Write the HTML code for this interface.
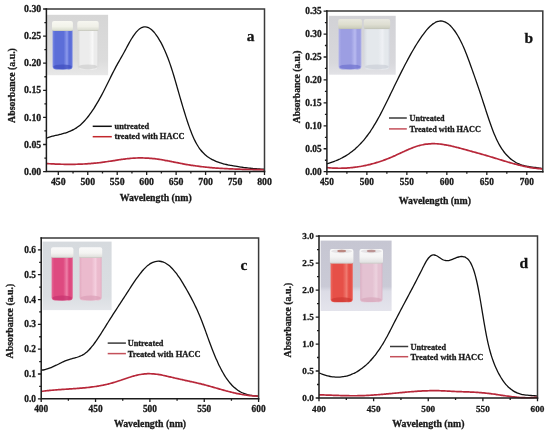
<!DOCTYPE html>
<html><head><meta charset="utf-8"><title>Absorbance spectra</title>
<style>
html,body{margin:0;padding:0;background:#fff;}
body{width:550px;height:432px;overflow:hidden;}
svg{display:block;}
text{font-family:'Liberation Serif', 'Times New Roman', serif;font-weight:bold;fill:#1a1a1a;stroke:#1a1a1a;stroke-width:0.3px;}
.tk{font-size:9.4px;}
.tt{font-size:9.8px;}
.lg{font-size:8.8px;}
.lt{font-size:15.5px;fill:#111;}
</style></head>
<body>
<svg width="550" height="432" viewBox="0 0 550 432">
<defs><linearGradient id="g1" x1="0" y1="0" x2="0" y2="1"><stop offset="0" stop-color="#d6d6d6"/><stop offset="0.75" stop-color="#dcdcdc"/><stop offset="1" stop-color="#e8e8e8"/></linearGradient><linearGradient id="g2" x1="0" y1="0" x2="1" y2="0"><stop offset="0" stop-color="#7a8ae6"/><stop offset="0.12" stop-color="#5c6ed8"/><stop offset="0.55" stop-color="#5c6ed8"/><stop offset="0.72" stop-color="#8c9aec"/><stop offset="0.82" stop-color="#5c6ed8"/><stop offset="0.93" stop-color="#5c6ed8"/><stop offset="1" stop-color="#7a8ae6"/></linearGradient><linearGradient id="g3" x1="0" y1="0" x2="0" y2="1"><stop offset="0" stop-color="#f8f8f2"/><stop offset="0.55" stop-color="#f2f3ea"/><stop offset="1" stop-color="#d8dccc"/></linearGradient><linearGradient id="g4" x1="0" y1="0" x2="1" y2="0"><stop offset="0" stop-color="#d4d4d4"/><stop offset="0.12" stop-color="#ececec"/><stop offset="0.55" stop-color="#ececec"/><stop offset="0.72" stop-color="#f8f8f8"/><stop offset="0.82" stop-color="#ececec"/><stop offset="0.93" stop-color="#ececec"/><stop offset="1" stop-color="#d4d4d4"/></linearGradient><linearGradient id="g5" x1="0" y1="0" x2="0" y2="1"><stop offset="0" stop-color="#f6f6f0"/><stop offset="0.55" stop-color="#f0f0e8"/><stop offset="1" stop-color="#d6d8cc"/></linearGradient><linearGradient id="g6" x1="0" y1="0" x2="0" y2="1"><stop offset="0" stop-color="#d2d2d6"/><stop offset="0.8" stop-color="#d8d8dc"/><stop offset="1" stop-color="#e2e2e6"/></linearGradient><linearGradient id="g7" x1="0" y1="0" x2="1" y2="0"><stop offset="0" stop-color="#aeb0ea"/><stop offset="0.12" stop-color="#9c9ee2"/><stop offset="0.55" stop-color="#9c9ee2"/><stop offset="0.72" stop-color="#b8baf0"/><stop offset="0.82" stop-color="#9c9ee2"/><stop offset="0.93" stop-color="#9c9ee2"/><stop offset="1" stop-color="#aeb0ea"/></linearGradient><linearGradient id="g8" x1="0" y1="0" x2="0" y2="1"><stop offset="0" stop-color="#e8e8de"/><stop offset="0.55" stop-color="#dedece"/><stop offset="1" stop-color="#c8cab8"/></linearGradient><linearGradient id="g9" x1="0" y1="0" x2="1" y2="0"><stop offset="0" stop-color="#d6dae2"/><stop offset="0.12" stop-color="#e4e8ec"/><stop offset="0.55" stop-color="#e4e8ec"/><stop offset="0.72" stop-color="#eef0f4"/><stop offset="0.82" stop-color="#e4e8ec"/><stop offset="0.93" stop-color="#e4e8ec"/><stop offset="1" stop-color="#d6dae2"/></linearGradient><linearGradient id="g10" x1="0" y1="0" x2="0" y2="1"><stop offset="0" stop-color="#e8e8e0"/><stop offset="0.55" stop-color="#deded2"/><stop offset="1" stop-color="#c8cabc"/></linearGradient><linearGradient id="g11" x1="0" y1="0" x2="0" y2="1"><stop offset="0" stop-color="#d6dade"/><stop offset="0.8" stop-color="#dadee2"/><stop offset="1" stop-color="#e4e6ea"/></linearGradient><linearGradient id="g12" x1="0" y1="0" x2="1" y2="0"><stop offset="0" stop-color="#e66a98"/><stop offset="0.12" stop-color="#de4a80"/><stop offset="0.55" stop-color="#de4a80"/><stop offset="0.72" stop-color="#ee80a8"/><stop offset="0.82" stop-color="#de4a80"/><stop offset="0.93" stop-color="#de4a80"/><stop offset="1" stop-color="#e66a98"/></linearGradient><linearGradient id="g13" x1="0" y1="0" x2="0" y2="1"><stop offset="0" stop-color="#fafafa"/><stop offset="0.55" stop-color="#f4f4f2"/><stop offset="1" stop-color="#dcdcd8"/></linearGradient><linearGradient id="g14" x1="0" y1="0" x2="1" y2="0"><stop offset="0" stop-color="#e2aac0"/><stop offset="0.12" stop-color="#ebbacd"/><stop offset="0.55" stop-color="#ebbacd"/><stop offset="0.72" stop-color="#f4cede"/><stop offset="0.82" stop-color="#ebbacd"/><stop offset="0.93" stop-color="#ebbacd"/><stop offset="1" stop-color="#e2aac0"/></linearGradient><linearGradient id="g15" x1="0" y1="0" x2="0" y2="1"><stop offset="0" stop-color="#fafafa"/><stop offset="0.55" stop-color="#f4f4f2"/><stop offset="1" stop-color="#dcdcd8"/></linearGradient><linearGradient id="g16" x1="0" y1="0" x2="0" y2="1"><stop offset="0" stop-color="#c6c6d2"/><stop offset="0.65" stop-color="#cacad6"/><stop offset="0.72" stop-color="#dcdce6"/><stop offset="1" stop-color="#e4e4ec"/></linearGradient><linearGradient id="g17" x1="0" y1="0" x2="1" y2="0"><stop offset="0" stop-color="#ee6a60"/><stop offset="0.12" stop-color="#e65048"/><stop offset="0.55" stop-color="#e65048"/><stop offset="0.72" stop-color="#f07a70"/><stop offset="0.82" stop-color="#e65048"/><stop offset="0.93" stop-color="#e65048"/><stop offset="1" stop-color="#ee6a60"/></linearGradient><linearGradient id="g18" x1="0" y1="0" x2="0" y2="1"><stop offset="0" stop-color="#fafafa"/><stop offset="0.55" stop-color="#f4f4f4"/><stop offset="1" stop-color="#dedede"/></linearGradient><linearGradient id="g19" x1="0" y1="0" x2="1" y2="0"><stop offset="0" stop-color="#dcb0c4"/><stop offset="0.12" stop-color="#e4c2d2"/><stop offset="0.55" stop-color="#e4c2d2"/><stop offset="0.72" stop-color="#ecd2de"/><stop offset="0.82" stop-color="#e4c2d2"/><stop offset="0.93" stop-color="#e4c2d2"/><stop offset="1" stop-color="#dcb0c4"/></linearGradient><linearGradient id="g20" x1="0" y1="0" x2="0" y2="1"><stop offset="0" stop-color="#fafafa"/><stop offset="0.55" stop-color="#f4f4f4"/><stop offset="1" stop-color="#dedede"/></linearGradient></defs>
<rect width="550" height="432" fill="#fff"/>
<rect x="46.9" y="14.8" width="61.2" height="60.4" fill="url(#g1)"/>
<path d="M52.60,30.40 V66.40 Q52.60,69.40 56.60,69.40 H68.60 Q72.60,69.40 72.60,66.40 V30.40 Z" fill="url(#g2)"/>
<ellipse cx="62.60" cy="66.80" rx="9.20" ry="2.4" fill="#4250c0" opacity="0.75"/>
<rect x="52.00" y="21.10" width="20.90" height="9.80" rx="2" fill="url(#g3)"/>
<path d="M52.50,30.60H72.40" stroke="#b8b8b0" stroke-width="0.6" opacity="0.7"/>
<path d="M77.80,30.40 V66.40 Q77.80,69.40 81.80,69.40 H94.20 Q98.20,69.40 98.20,66.40 V30.40 Z" fill="url(#g4)"/>
<ellipse cx="88.00" cy="66.80" rx="9.40" ry="2.4" fill="#d0d0d0" opacity="0.75"/>
<rect x="77.30" y="21.10" width="21.40" height="9.80" rx="2" fill="url(#g5)"/>
<path d="M77.80,30.60H98.20" stroke="#b8b8b0" stroke-width="0.6" opacity="0.7"/>
<rect x="328.9" y="15.8" width="66.8" height="58.9" fill="url(#g6)"/>
<path d="M338.60,28.50 V66.40 Q338.60,69.40 342.60,69.40 H357.40 Q361.40,69.40 361.40,66.40 V28.50 Z" fill="url(#g7)"/>
<ellipse cx="350.00" cy="66.80" rx="10.60" ry="2.4" fill="#7274d0" opacity="0.75"/>
<rect x="338.20" y="19.00" width="23.70" height="10.00" rx="2" fill="url(#g8)"/>
<path d="M338.70,28.70H361.40" stroke="#b8b8b0" stroke-width="0.6" opacity="0.7"/>
<path d="M364.20,28.50 V66.40 Q364.20,69.40 368.20,69.40 H385.60 Q389.60,69.40 389.60,66.40 V28.50 Z" fill="url(#g9)"/>
<ellipse cx="376.90" cy="66.80" rx="11.90" ry="2.4" fill="#ccd0d8" opacity="0.75"/>
<rect x="363.80" y="19.00" width="26.40" height="10.00" rx="2" fill="url(#g10)"/>
<path d="M364.30,28.70H389.70" stroke="#b8b8b0" stroke-width="0.6" opacity="0.7"/>
<rect x="42.6" y="241.6" width="69.0" height="68.5" fill="url(#g11)"/>
<path d="M51.60,257.30 V297.60 Q51.60,300.60 55.60,300.60 H68.80 Q72.80,300.60 72.80,297.60 V257.30 Z" fill="url(#g12)"/>
<ellipse cx="62.20" cy="298.00" rx="9.80" ry="2.4" fill="#c83470" opacity="0.75"/>
<rect x="51.00" y="247.20" width="22.40" height="10.60" rx="2" fill="url(#g13)"/>
<path d="M51.50,257.50H72.90" stroke="#b8b8b0" stroke-width="0.6" opacity="0.7"/>
<path d="M79.60,257.30 V297.60 Q79.60,300.60 83.60,300.60 H97.60 Q101.60,300.60 101.60,297.60 V257.30 Z" fill="url(#g14)"/>
<ellipse cx="90.60" cy="298.00" rx="10.20" ry="2.4" fill="#dca0b8" opacity="0.75"/>
<rect x="79.00" y="247.20" width="23.20" height="10.60" rx="2" fill="url(#g15)"/>
<path d="M79.50,257.50H101.70" stroke="#b8b8b0" stroke-width="0.6" opacity="0.7"/>
<rect x="320.6" y="240.6" width="71.0" height="70.4" fill="url(#g16)"/>
<path d="M330.60,263.00 V299.30 Q330.60,302.30 334.60,302.30 H348.80 Q352.80,302.30 352.80,299.30 V263.00 Z" fill="url(#g17)"/>
<ellipse cx="341.70" cy="299.70" rx="10.30" ry="2.4" fill="#d03a34" opacity="0.75"/>
<rect x="329.90" y="249.00" width="23.50" height="14.50" rx="2" fill="url(#g18)"/>
<ellipse cx="341.65" cy="251.20" rx="10.55" ry="2.0" fill="#e6e4e6"/>
<ellipse cx="341.65" cy="251.00" rx="4.5" ry="1.3" fill="#b07068" opacity="0.8"/>
<path d="M330.40,263.20H352.90" stroke="#b8b8b0" stroke-width="0.6" opacity="0.7"/>
<path d="M360.20,263.00 V299.30 Q360.20,302.30 364.20,302.30 H378.40 Q382.40,302.30 382.40,299.30 V263.00 Z" fill="url(#g19)"/>
<ellipse cx="371.30" cy="299.70" rx="10.30" ry="2.4" fill="#d8a8bc" opacity="0.75"/>
<rect x="359.50" y="249.00" width="23.50" height="14.50" rx="2" fill="url(#g20)"/>
<ellipse cx="371.25" cy="251.20" rx="10.55" ry="2.0" fill="#e6e4e6"/>
<ellipse cx="371.25" cy="251.00" rx="4.5" ry="1.3" fill="#b08080" opacity="0.8"/>
<path d="M360.00,263.20H382.50" stroke="#b8b8b0" stroke-width="0.6" opacity="0.7"/>
<path d="M46.40,138.02 C46.65,137.94 47.40,137.67 47.90,137.51 C48.40,137.34 48.90,137.19 49.40,137.04 C49.90,136.89 50.40,136.75 50.90,136.61 C51.40,136.47 51.90,136.34 52.40,136.21 C52.90,136.08 53.40,135.96 53.90,135.83 C54.40,135.71 54.90,135.59 55.40,135.48 C55.90,135.36 56.40,135.24 56.90,135.13 C57.40,135.01 57.90,134.89 58.40,134.78 C58.90,134.66 59.40,134.54 59.90,134.42 C60.40,134.30 60.90,134.18 61.40,134.05 C61.90,133.92 62.40,133.80 62.90,133.66 C63.40,133.52 63.90,133.38 64.40,133.24 C64.90,133.09 65.40,132.94 65.90,132.78 C66.40,132.62 66.90,132.45 67.40,132.27 C67.90,132.09 68.40,131.91 68.90,131.71 C69.40,131.52 69.90,131.31 70.40,131.09 C70.90,130.87 71.40,130.65 71.90,130.40 C72.40,130.16 72.90,129.91 73.40,129.64 C73.90,129.37 74.40,129.09 74.90,128.79 C75.40,128.49 75.90,128.18 76.40,127.85 C76.90,127.52 77.40,127.18 77.90,126.81 C78.40,126.45 78.90,126.07 79.40,125.66 C79.90,125.26 80.40,124.84 80.90,124.40 C81.40,123.96 81.90,123.50 82.40,123.02 C82.90,122.53 83.40,122.03 83.90,121.51 C84.40,120.98 84.90,120.43 85.40,119.87 C85.90,119.30 86.40,118.72 86.90,118.11 C87.40,117.51 87.90,116.88 88.40,116.24 C88.90,115.59 89.40,114.93 89.90,114.24 C90.40,113.56 90.90,112.86 91.40,112.14 C91.90,111.42 92.40,110.69 92.90,109.93 C93.40,109.18 93.90,108.41 94.40,107.62 C94.90,106.83 95.40,106.03 95.90,105.20 C96.40,104.38 96.90,103.54 97.40,102.69 C97.90,101.84 98.40,100.97 98.90,100.08 C99.40,99.20 99.90,98.30 100.40,97.38 C100.90,96.47 101.40,95.54 101.90,94.60 C102.40,93.65 102.90,92.70 103.40,91.73 C103.90,90.76 104.40,89.77 104.90,88.78 C105.40,87.79 105.90,86.78 106.40,85.77 C106.90,84.77 107.40,83.75 107.90,82.74 C108.40,81.72 108.90,80.70 109.40,79.69 C109.90,78.68 110.40,77.66 110.90,76.66 C111.40,75.65 111.90,74.65 112.40,73.66 C112.90,72.66 113.40,71.68 113.90,70.71 C114.40,69.74 114.90,68.79 115.40,67.85 C115.90,66.91 116.40,65.99 116.90,65.09 C117.40,64.18 117.90,63.30 118.40,62.42 C118.90,61.53 119.40,60.67 119.90,59.79 C120.40,58.92 120.90,58.05 121.40,57.17 C121.90,56.28 122.40,55.39 122.90,54.49 C123.40,53.59 123.90,52.67 124.40,51.74 C124.90,50.82 125.40,49.88 125.90,48.96 C126.40,48.03 126.90,47.09 127.40,46.17 C127.90,45.25 128.40,44.33 128.90,43.43 C129.40,42.54 129.90,41.65 130.40,40.79 C130.90,39.93 131.40,39.08 131.90,38.27 C132.40,37.46 132.90,36.68 133.40,35.93 C133.90,35.19 134.40,34.48 134.90,33.82 C135.40,33.15 135.90,32.53 136.40,31.95 C136.90,31.38 137.40,30.84 137.90,30.36 C138.40,29.88 138.90,29.44 139.40,29.05 C139.90,28.66 140.40,28.32 140.90,28.03 C141.40,27.74 141.90,27.50 142.40,27.31 C142.90,27.12 143.40,26.99 143.90,26.90 C144.40,26.82 144.90,26.79 145.40,26.82 C145.90,26.85 146.40,26.93 146.90,27.06 C147.40,27.19 147.90,27.38 148.40,27.61 C148.90,27.85 149.40,28.13 149.90,28.46 C150.40,28.79 150.90,29.18 151.40,29.60 C151.90,30.02 152.40,30.49 152.90,31.00 C153.40,31.52 153.90,32.07 154.40,32.67 C154.90,33.26 155.40,33.90 155.90,34.57 C156.40,35.24 156.90,35.96 157.40,36.70 C157.90,37.45 158.40,38.23 158.90,39.05 C159.40,39.87 159.90,40.73 160.40,41.62 C160.90,42.51 161.40,43.44 161.90,44.41 C162.40,45.38 162.90,46.39 163.40,47.44 C163.90,48.49 164.40,49.57 164.90,50.71 C165.40,51.84 165.90,53.02 166.40,54.24 C166.90,55.46 167.40,56.72 167.90,58.03 C168.40,59.34 168.90,60.70 169.40,62.10 C169.90,63.51 170.40,64.96 170.90,66.46 C171.40,67.96 171.90,69.52 172.40,71.12 C172.90,72.71 173.40,74.36 173.90,76.03 C174.40,77.70 174.90,79.42 175.40,81.14 C175.90,82.86 176.40,84.61 176.90,86.35 C177.40,88.09 177.90,89.85 178.40,91.59 C178.90,93.34 179.40,95.08 179.90,96.82 C180.40,98.55 180.90,100.28 181.40,101.99 C181.90,103.70 182.40,105.40 182.90,107.07 C183.40,108.75 183.90,110.41 184.40,112.04 C184.90,113.67 185.40,115.28 185.90,116.85 C186.40,118.42 186.90,119.97 187.40,121.48 C187.90,122.98 188.40,124.46 188.90,125.88 C189.40,127.31 189.90,128.69 190.40,130.03 C190.90,131.37 191.40,132.66 191.90,133.89 C192.40,135.13 192.90,136.31 193.40,137.43 C193.90,138.55 194.40,139.62 194.90,140.62 C195.40,141.63 195.90,142.58 196.40,143.48 C196.90,144.38 197.40,145.22 197.90,146.02 C198.40,146.82 198.90,147.57 199.40,148.27 C199.90,148.98 200.40,149.64 200.90,150.27 C201.40,150.90 201.90,151.48 202.40,152.03 C202.90,152.58 203.40,153.10 203.90,153.58 C204.40,154.07 204.90,154.52 205.40,154.95 C205.90,155.38 206.40,155.78 206.90,156.17 C207.40,156.55 207.90,156.90 208.40,157.25 C208.90,157.59 209.40,157.91 209.90,158.22 C210.40,158.53 210.90,158.83 211.40,159.11 C211.90,159.39 212.40,159.66 212.90,159.91 C213.40,160.17 213.90,160.41 214.40,160.64 C214.90,160.88 215.40,161.10 215.90,161.31 C216.40,161.52 216.90,161.72 217.40,161.91 C217.90,162.10 218.40,162.28 218.90,162.45 C219.40,162.62 219.90,162.78 220.40,162.94 C220.90,163.09 221.40,163.24 221.90,163.38 C222.40,163.52 222.90,163.66 223.40,163.79 C223.90,163.92 224.40,164.04 224.90,164.16 C225.40,164.28 225.90,164.39 226.40,164.50 C226.90,164.61 227.40,164.72 227.90,164.82 C228.40,164.93 228.90,165.03 229.40,165.13 C229.90,165.23 230.40,165.32 230.90,165.42 C231.40,165.52 231.90,165.61 232.40,165.70 C232.90,165.79 233.40,165.88 233.90,165.97 C234.40,166.06 234.90,166.15 235.40,166.23 C235.90,166.32 236.40,166.40 236.90,166.48 C237.40,166.56 237.90,166.64 238.40,166.72 C238.90,166.80 239.40,166.87 239.90,166.95 C240.40,167.02 240.90,167.09 241.40,167.16 C241.90,167.23 242.40,167.30 242.90,167.37 C243.40,167.44 243.90,167.50 244.40,167.56 C244.90,167.63 245.40,167.69 245.90,167.75 C246.40,167.81 246.90,167.87 247.40,167.92 C247.90,167.98 248.40,168.04 248.90,168.09 C249.40,168.14 249.90,168.19 250.40,168.24 C250.90,168.29 251.40,168.34 251.90,168.39 C252.40,168.44 252.90,168.48 253.40,168.53 C253.90,168.57 254.40,168.61 254.90,168.65 C255.40,168.69 255.90,168.73 256.40,168.77 C256.90,168.80 257.40,168.84 257.90,168.87 C258.40,168.91 258.90,168.94 259.40,168.97 C259.90,169.00 260.40,169.03 260.90,169.06 C261.40,169.09 261.90,169.12 262.40,169.14 C262.90,169.17 263.55,169.20 263.90,169.21 C264.25,169.23 264.40,169.23 264.50,169.24" fill="none" stroke="#111" stroke-width="1.3" stroke-linejoin="round"/>
<path d="M46.40,163.54 C46.65,163.56 47.40,163.61 47.90,163.64 C48.40,163.67 48.90,163.70 49.40,163.73 C49.90,163.76 50.40,163.78 50.90,163.81 C51.40,163.84 51.90,163.86 52.40,163.89 C52.90,163.91 53.40,163.94 53.90,163.96 C54.40,163.99 54.90,164.01 55.40,164.03 C55.90,164.05 56.40,164.07 56.90,164.09 C57.40,164.11 57.90,164.13 58.40,164.14 C58.90,164.16 59.40,164.18 59.90,164.19 C60.40,164.21 60.90,164.22 61.40,164.23 C61.90,164.25 62.40,164.26 62.90,164.27 C63.40,164.28 63.90,164.29 64.40,164.30 C64.90,164.30 65.40,164.31 65.90,164.32 C66.40,164.32 66.90,164.33 67.40,164.33 C67.90,164.34 68.40,164.34 68.90,164.34 C69.40,164.34 69.90,164.34 70.40,164.34 C70.90,164.34 71.40,164.33 71.90,164.33 C72.40,164.33 72.90,164.32 73.40,164.31 C73.90,164.31 74.40,164.30 74.90,164.29 C75.40,164.28 75.90,164.27 76.40,164.26 C76.90,164.25 77.40,164.23 77.90,164.22 C78.40,164.20 78.90,164.19 79.40,164.17 C79.90,164.15 80.40,164.13 80.90,164.11 C81.40,164.09 81.90,164.07 82.40,164.05 C82.90,164.03 83.40,164.00 83.90,163.98 C84.40,163.95 84.90,163.92 85.40,163.89 C85.90,163.86 86.40,163.83 86.90,163.80 C87.40,163.77 87.90,163.74 88.40,163.70 C88.90,163.67 89.40,163.63 89.90,163.59 C90.40,163.55 90.90,163.51 91.40,163.47 C91.90,163.43 92.40,163.39 92.90,163.34 C93.40,163.30 93.90,163.25 94.40,163.20 C94.90,163.16 95.40,163.11 95.90,163.06 C96.40,163.01 96.90,162.95 97.40,162.90 C97.90,162.84 98.40,162.79 98.90,162.73 C99.40,162.67 99.90,162.61 100.40,162.55 C100.90,162.49 101.40,162.43 101.90,162.36 C102.40,162.30 102.90,162.23 103.40,162.16 C103.90,162.09 104.40,162.02 104.90,161.95 C105.40,161.88 105.90,161.81 106.40,161.73 C106.90,161.66 107.40,161.59 107.90,161.51 C108.40,161.43 108.90,161.36 109.40,161.28 C109.90,161.20 110.40,161.12 110.90,161.05 C111.40,160.97 111.90,160.89 112.40,160.81 C112.90,160.73 113.40,160.65 113.90,160.57 C114.40,160.50 114.90,160.42 115.40,160.34 C115.90,160.26 116.40,160.18 116.90,160.11 C117.40,160.03 117.90,159.95 118.40,159.88 C118.90,159.80 119.40,159.73 119.90,159.65 C120.40,159.58 120.90,159.51 121.40,159.44 C121.90,159.37 122.40,159.30 122.90,159.23 C123.40,159.17 123.90,159.10 124.40,159.04 C124.90,158.97 125.40,158.91 125.90,158.85 C126.40,158.79 126.90,158.74 127.40,158.68 C127.90,158.63 128.40,158.58 128.90,158.53 C129.40,158.48 129.90,158.43 130.40,158.39 C130.90,158.34 131.40,158.30 131.90,158.27 C132.40,158.23 132.90,158.20 133.40,158.17 C133.90,158.13 134.40,158.11 134.90,158.08 C135.40,158.06 135.90,158.04 136.40,158.02 C136.90,158.00 137.40,157.99 137.90,157.97 C138.40,157.96 138.90,157.95 139.40,157.95 C139.90,157.94 140.40,157.94 140.90,157.94 C141.40,157.94 141.90,157.94 142.40,157.95 C142.90,157.96 143.40,157.97 143.90,157.98 C144.40,157.99 144.90,158.01 145.40,158.03 C145.90,158.05 146.40,158.07 146.90,158.10 C147.40,158.12 147.90,158.15 148.40,158.18 C148.90,158.21 149.40,158.25 149.90,158.29 C150.40,158.32 150.90,158.36 151.40,158.41 C151.90,158.45 152.40,158.50 152.90,158.55 C153.40,158.60 153.90,158.65 154.40,158.71 C154.90,158.76 155.40,158.82 155.90,158.88 C156.40,158.95 156.90,159.01 157.40,159.08 C157.90,159.15 158.40,159.22 158.90,159.29 C159.40,159.37 159.90,159.44 160.40,159.52 C160.90,159.60 161.40,159.68 161.90,159.76 C162.40,159.85 162.90,159.93 163.40,160.02 C163.90,160.11 164.40,160.20 164.90,160.29 C165.40,160.38 165.90,160.47 166.40,160.57 C166.90,160.66 167.40,160.76 167.90,160.85 C168.40,160.95 168.90,161.05 169.40,161.15 C169.90,161.25 170.40,161.35 170.90,161.44 C171.40,161.54 171.90,161.65 172.40,161.75 C172.90,161.85 173.40,161.95 173.90,162.05 C174.40,162.15 174.90,162.25 175.40,162.35 C175.90,162.45 176.40,162.55 176.90,162.65 C177.40,162.75 177.90,162.85 178.40,162.95 C178.90,163.05 179.40,163.15 179.90,163.25 C180.40,163.35 180.90,163.44 181.40,163.54 C181.90,163.63 182.40,163.73 182.90,163.82 C183.40,163.91 183.90,164.00 184.40,164.09 C184.90,164.18 185.40,164.27 185.90,164.35 C186.40,164.44 186.90,164.53 187.40,164.61 C187.90,164.69 188.40,164.78 188.90,164.86 C189.40,164.94 189.90,165.02 190.40,165.10 C190.90,165.18 191.40,165.26 191.90,165.33 C192.40,165.41 192.90,165.48 193.40,165.56 C193.90,165.63 194.40,165.70 194.90,165.77 C195.40,165.84 195.90,165.91 196.40,165.98 C196.90,166.05 197.40,166.12 197.90,166.18 C198.40,166.25 198.90,166.32 199.40,166.38 C199.90,166.44 200.40,166.50 200.90,166.57 C201.40,166.63 201.90,166.69 202.40,166.74 C202.90,166.80 203.40,166.86 203.90,166.92 C204.40,166.97 204.90,167.03 205.40,167.08 C205.90,167.13 206.40,167.19 206.90,167.24 C207.40,167.29 207.90,167.34 208.40,167.39 C208.90,167.44 209.40,167.48 209.90,167.53 C210.40,167.58 210.90,167.62 211.40,167.67 C211.90,167.71 212.40,167.75 212.90,167.79 C213.40,167.84 213.90,167.88 214.40,167.92 C214.90,167.96 215.40,167.99 215.90,168.03 C216.40,168.07 216.90,168.11 217.40,168.14 C217.90,168.18 218.40,168.21 218.90,168.25 C219.40,168.28 219.90,168.31 220.40,168.34 C220.90,168.38 221.40,168.41 221.90,168.44 C222.40,168.47 222.90,168.50 223.40,168.52 C223.90,168.55 224.40,168.58 224.90,168.61 C225.40,168.63 225.90,168.66 226.40,168.68 C226.90,168.71 227.40,168.73 227.90,168.76 C228.40,168.78 228.90,168.80 229.40,168.83 C229.90,168.85 230.40,168.87 230.90,168.89 C231.40,168.91 231.90,168.93 232.40,168.95 C232.90,168.97 233.40,168.99 233.90,169.01 C234.40,169.03 234.90,169.05 235.40,169.07 C235.90,169.08 236.40,169.10 236.90,169.12 C237.40,169.13 237.90,169.15 238.40,169.17 C238.90,169.18 239.40,169.20 239.90,169.21 C240.40,169.23 240.90,169.24 241.40,169.26 C241.90,169.27 242.40,169.29 242.90,169.30 C243.40,169.31 243.90,169.33 244.40,169.34 C244.90,169.35 245.40,169.36 245.90,169.38 C246.40,169.39 246.90,169.40 247.40,169.41 C247.90,169.43 248.40,169.44 248.90,169.45 C249.40,169.46 249.90,169.47 250.40,169.49 C250.90,169.50 251.40,169.51 251.90,169.52 C252.40,169.53 252.90,169.54 253.40,169.55 C253.90,169.56 254.40,169.58 254.90,169.59 C255.40,169.60 255.90,169.61 256.40,169.62 C256.90,169.63 257.40,169.64 257.90,169.65 C258.40,169.67 258.90,169.68 259.40,169.69 C259.90,169.70 260.40,169.71 260.90,169.72 C261.40,169.74 261.90,169.75 262.40,169.76 C262.90,169.77 263.55,169.79 263.90,169.80 C264.25,169.81 264.40,169.81 264.50,169.81" fill="none" stroke="#b8283a" stroke-width="1.7" stroke-linejoin="round"/>
<path d="M46.40,9.00H264.50V171.60" fill="none" stroke="#3a3a3a" stroke-width="1.5" stroke-linecap="square"/>
<path d="M46.40,9.00V171.60H264.50" fill="none" stroke="#1c1c1c" stroke-width="1.5" stroke-linecap="square"/>
<path d="M58.30,171.60v3.3 M87.76,171.60v3.3 M117.21,171.60v3.3 M146.67,171.60v3.3 M176.13,171.60v3.3 M205.59,171.60v3.3 M235.04,171.60v3.3 M264.50,171.60v3.3 M73.03,171.60v2 M102.49,171.60v2 M131.94,171.60v2 M161.40,171.60v2 M190.86,171.60v2 M220.31,171.60v2 M249.77,171.60v2 M46.40,171.60h-3.3 M46.40,144.50h-3.3 M46.40,117.40h-3.3 M46.40,90.30h-3.3 M46.40,63.20h-3.3 M46.40,36.10h-3.3 M46.40,9.00h-3.3 M46.40,158.05h-2 M46.40,130.95h-2 M46.40,103.85h-2 M46.40,76.75h-2 M46.40,49.65h-2 M46.40,22.55h-2" stroke="#1c1c1c" stroke-width="1.3" fill="none"/>
<text x="58.30" y="184.60" text-anchor="middle" class="tk" style="font-size:9.8px">450</text>
<text x="87.76" y="184.60" text-anchor="middle" class="tk" style="font-size:9.8px">500</text>
<text x="117.21" y="184.60" text-anchor="middle" class="tk" style="font-size:9.8px">550</text>
<text x="146.67" y="184.60" text-anchor="middle" class="tk" style="font-size:9.8px">600</text>
<text x="176.13" y="184.60" text-anchor="middle" class="tk" style="font-size:9.8px">650</text>
<text x="205.59" y="184.60" text-anchor="middle" class="tk" style="font-size:9.8px">700</text>
<text x="235.04" y="184.60" text-anchor="middle" class="tk" style="font-size:9.8px">750</text>
<text x="264.50" y="184.60" text-anchor="middle" class="tk" style="font-size:9.8px">800</text>
<text x="41.20" y="174.70" text-anchor="end" class="tk" style="font-size:9.8px">0.00</text>
<text x="41.20" y="147.60" text-anchor="end" class="tk" style="font-size:9.8px">0.05</text>
<text x="41.20" y="120.50" text-anchor="end" class="tk" style="font-size:9.8px">0.10</text>
<text x="41.20" y="93.40" text-anchor="end" class="tk" style="font-size:9.8px">0.15</text>
<text x="41.20" y="66.30" text-anchor="end" class="tk" style="font-size:9.8px">0.20</text>
<text x="41.20" y="39.20" text-anchor="end" class="tk" style="font-size:9.8px">0.25</text>
<text x="41.20" y="12.10" text-anchor="end" class="tk" style="font-size:9.8px">0.30</text>
<text transform="translate(15.30,85.50) rotate(-90)" text-anchor="middle" class="tt" style="font-size:9.87px">Absorbance (a.u.)</text>
<text x="155.70" y="200.60" text-anchor="middle" class="tt">Wavelength (nm)</text>
<path d="M92.70,126.30H111.80" stroke="#111" stroke-width="1.5"/>
<path d="M92.70,136.70H111.80" stroke="#c3282c" stroke-width="1.5"/>
<text x="114.50" y="129.00" class="lg" textLength="34.6" lengthAdjust="spacingAndGlyphs">untreated</text>
<text x="114.50" y="139.00" class="lg" textLength="70.0" lengthAdjust="spacingAndGlyphs">treated with HACC</text>
<text x="246.80" y="40.70" class="lt">a</text>
<path d="M326.90,163.92 C327.15,163.85 327.90,163.62 328.40,163.46 C328.90,163.30 329.40,163.14 329.90,162.97 C330.40,162.81 330.90,162.64 331.40,162.46 C331.90,162.29 332.40,162.11 332.90,161.93 C333.40,161.75 333.90,161.56 334.40,161.36 C334.90,161.17 335.40,160.97 335.90,160.77 C336.40,160.56 336.90,160.35 337.40,160.13 C337.90,159.92 338.40,159.69 338.90,159.46 C339.40,159.23 339.90,158.99 340.40,158.75 C340.90,158.50 341.40,158.25 341.90,157.99 C342.40,157.73 342.90,157.46 343.40,157.19 C343.90,156.91 344.40,156.63 344.90,156.33 C345.40,156.04 345.90,155.74 346.40,155.42 C346.90,155.11 347.40,154.79 347.90,154.46 C348.40,154.13 348.90,153.79 349.40,153.44 C349.90,153.09 350.40,152.73 350.90,152.35 C351.40,151.98 351.90,151.60 352.40,151.20 C352.90,150.81 353.40,150.41 353.90,149.99 C354.40,149.57 354.90,149.14 355.40,148.70 C355.90,148.26 356.40,147.80 356.90,147.34 C357.40,146.87 357.90,146.39 358.40,145.90 C358.90,145.41 359.40,144.90 359.90,144.38 C360.40,143.86 360.90,143.33 361.40,142.78 C361.90,142.23 362.40,141.67 362.90,141.09 C363.40,140.52 363.90,139.93 364.40,139.32 C364.90,138.71 365.40,138.09 365.90,137.45 C366.40,136.82 366.90,136.16 367.40,135.49 C367.90,134.82 368.40,134.14 368.90,133.44 C369.40,132.73 369.90,132.02 370.40,131.28 C370.90,130.54 371.40,129.79 371.90,129.02 C372.40,128.25 372.90,127.46 373.40,126.65 C373.90,125.85 374.40,125.02 374.90,124.18 C375.40,123.34 375.90,122.48 376.40,121.60 C376.90,120.73 377.40,119.84 377.90,118.94 C378.40,118.04 378.90,117.12 379.40,116.19 C379.90,115.27 380.40,114.32 380.90,113.37 C381.40,112.42 381.90,111.46 382.40,110.49 C382.90,109.52 383.40,108.53 383.90,107.54 C384.40,106.56 384.90,105.56 385.40,104.55 C385.90,103.55 386.40,102.54 386.90,101.52 C387.40,100.51 387.90,99.49 388.40,98.46 C388.90,97.44 389.40,96.41 389.90,95.38 C390.40,94.35 390.90,93.31 391.40,92.28 C391.90,91.25 392.40,90.21 392.90,89.18 C393.40,88.14 393.90,87.11 394.40,86.08 C394.90,85.05 395.40,84.02 395.90,82.99 C396.40,81.97 396.90,80.94 397.40,79.93 C397.90,78.91 398.40,77.89 398.90,76.88 C399.40,75.88 399.90,74.87 400.40,73.87 C400.90,72.88 401.40,71.88 401.90,70.90 C402.40,69.91 402.90,68.93 403.40,67.96 C403.90,66.98 404.40,66.01 404.90,65.06 C405.40,64.10 405.90,63.14 406.40,62.20 C406.90,61.26 407.40,60.32 407.90,59.39 C408.40,58.47 408.90,57.55 409.40,56.64 C409.90,55.73 410.40,54.83 410.90,53.94 C411.40,53.05 411.90,52.17 412.40,51.30 C412.90,50.43 413.40,49.57 413.90,48.72 C414.40,47.87 414.90,47.03 415.40,46.21 C415.90,45.38 416.40,44.57 416.90,43.77 C417.40,42.97 417.90,42.18 418.40,41.40 C418.90,40.63 419.40,39.86 419.90,39.11 C420.40,38.37 420.90,37.63 421.40,36.91 C421.90,36.19 422.40,35.49 422.90,34.80 C423.40,34.12 423.90,33.45 424.40,32.80 C424.90,32.15 425.40,31.52 425.90,30.92 C426.40,30.31 426.90,29.72 427.40,29.16 C427.90,28.60 428.40,28.06 428.90,27.55 C429.40,27.03 429.90,26.54 430.40,26.08 C430.90,25.62 431.40,25.19 431.90,24.78 C432.40,24.38 432.90,24.00 433.40,23.65 C433.90,23.31 434.40,22.99 434.90,22.71 C435.40,22.43 435.90,22.17 436.40,21.96 C436.90,21.74 437.40,21.56 437.90,21.42 C438.40,21.27 438.90,21.16 439.40,21.09 C439.90,21.02 440.40,20.99 440.90,21.00 C441.40,21.01 441.90,21.05 442.40,21.14 C442.90,21.23 443.40,21.36 443.90,21.52 C444.40,21.69 444.90,21.89 445.40,22.13 C445.90,22.38 446.40,22.66 446.90,22.98 C447.40,23.30 447.90,23.65 448.40,24.05 C448.90,24.44 449.40,24.87 449.90,25.34 C450.40,25.81 450.90,26.31 451.40,26.85 C451.90,27.39 452.40,27.97 452.90,28.58 C453.40,29.19 453.90,29.83 454.40,30.51 C454.90,31.19 455.40,31.91 455.90,32.66 C456.40,33.41 456.90,34.20 457.40,35.03 C457.90,35.85 458.40,36.72 458.90,37.62 C459.40,38.52 459.90,39.46 460.40,40.44 C460.90,41.42 461.40,42.44 461.90,43.50 C462.40,44.56 462.90,45.66 463.40,46.80 C463.90,47.94 464.40,49.12 464.90,50.34 C465.40,51.55 465.90,52.81 466.40,54.08 C466.90,55.36 467.40,56.67 467.90,58.00 C468.40,59.32 468.90,60.68 469.40,62.04 C469.90,63.40 470.40,64.79 470.90,66.18 C471.40,67.57 471.90,68.97 472.40,70.38 C472.90,71.78 473.40,73.20 473.90,74.61 C474.40,76.03 474.90,77.46 475.40,78.89 C475.90,80.33 476.40,81.77 476.90,83.22 C477.40,84.68 477.90,86.14 478.40,87.61 C478.90,89.09 479.40,90.57 479.90,92.06 C480.40,93.56 480.90,95.07 481.40,96.59 C481.90,98.11 482.40,99.65 482.90,101.18 C483.40,102.72 483.90,104.27 484.40,105.81 C484.90,107.35 485.40,108.89 485.90,110.42 C486.40,111.95 486.90,113.48 487.40,114.99 C487.90,116.49 488.40,117.99 488.90,119.46 C489.40,120.93 489.90,122.38 490.40,123.79 C490.90,125.21 491.40,126.60 491.90,127.96 C492.40,129.31 492.90,130.63 493.40,131.90 C493.90,133.17 494.40,134.41 494.90,135.58 C495.40,136.76 495.90,137.89 496.40,138.97 C496.90,140.05 497.40,141.07 497.90,142.05 C498.40,143.03 498.90,143.96 499.40,144.85 C499.90,145.74 500.40,146.58 500.90,147.39 C501.40,148.19 501.90,148.95 502.40,149.68 C502.90,150.41 503.40,151.09 503.90,151.75 C504.40,152.41 504.90,153.03 505.40,153.62 C505.90,154.21 506.40,154.77 506.90,155.30 C507.40,155.84 507.90,156.35 508.40,156.83 C508.90,157.31 509.40,157.77 509.90,158.21 C510.40,158.65 510.90,159.06 511.40,159.45 C511.90,159.85 512.40,160.22 512.90,160.57 C513.40,160.92 513.90,161.25 514.40,161.56 C514.90,161.88 515.40,162.17 515.90,162.45 C516.40,162.72 516.90,162.98 517.40,163.23 C517.90,163.47 518.40,163.70 518.90,163.91 C519.40,164.13 519.90,164.32 520.40,164.51 C520.90,164.70 521.40,164.87 521.90,165.03 C522.40,165.19 522.90,165.34 523.40,165.48 C523.90,165.62 524.40,165.75 524.90,165.87 C525.40,165.99 525.90,166.10 526.40,166.20 C526.90,166.30 527.40,166.40 527.90,166.49 C528.40,166.58 528.90,166.66 529.40,166.74 C529.90,166.81 530.40,166.89 530.90,166.96 C531.40,167.03 531.90,167.09 532.40,167.16 C532.90,167.22 533.40,167.28 533.90,167.34 C534.40,167.40 534.90,167.46 535.40,167.52 C535.90,167.59 536.40,167.65 536.90,167.71 C537.40,167.78 537.90,167.84 538.40,167.91 C538.90,167.98 539.40,168.05 539.90,168.13 C540.40,168.21 540.92,168.29 541.40,168.37 C541.88,168.46 542.57,168.59 542.80,168.64" fill="none" stroke="#111" stroke-width="1.3" stroke-linejoin="round"/>
<path d="M326.90,167.60 C327.15,167.63 327.90,167.70 328.40,167.75 C328.90,167.79 329.40,167.83 329.90,167.87 C330.40,167.91 330.90,167.95 331.40,167.98 C331.90,168.01 332.40,168.04 332.90,168.07 C333.40,168.09 333.90,168.12 334.40,168.14 C334.90,168.16 335.40,168.17 335.90,168.19 C336.40,168.20 336.90,168.21 337.40,168.22 C337.90,168.23 338.40,168.23 338.90,168.24 C339.40,168.24 339.90,168.24 340.40,168.23 C340.90,168.23 341.40,168.22 341.90,168.21 C342.40,168.20 342.90,168.19 343.40,168.17 C343.90,168.16 344.40,168.14 344.90,168.11 C345.40,168.09 345.90,168.07 346.40,168.04 C346.90,168.01 347.40,167.98 347.90,167.94 C348.40,167.91 348.90,167.87 349.40,167.83 C349.90,167.79 350.40,167.74 350.90,167.70 C351.40,167.65 351.90,167.60 352.40,167.55 C352.90,167.49 353.40,167.44 353.90,167.38 C354.40,167.32 354.90,167.26 355.40,167.19 C355.90,167.13 356.40,167.06 356.90,166.99 C357.40,166.92 357.90,166.84 358.40,166.77 C358.90,166.69 359.40,166.61 359.90,166.52 C360.40,166.44 360.90,166.35 361.40,166.26 C361.90,166.17 362.40,166.08 362.90,165.99 C363.40,165.89 363.90,165.79 364.40,165.69 C364.90,165.59 365.40,165.48 365.90,165.37 C366.40,165.27 366.90,165.16 367.40,165.04 C367.90,164.93 368.40,164.81 368.90,164.69 C369.40,164.57 369.90,164.45 370.40,164.32 C370.90,164.19 371.40,164.06 371.90,163.93 C372.40,163.80 372.90,163.66 373.40,163.52 C373.90,163.39 374.40,163.24 374.90,163.10 C375.40,162.95 375.90,162.81 376.40,162.66 C376.90,162.50 377.40,162.35 377.90,162.19 C378.40,162.04 378.90,161.88 379.40,161.71 C379.90,161.55 380.40,161.38 380.90,161.22 C381.40,161.05 381.90,160.87 382.40,160.70 C382.90,160.52 383.40,160.34 383.90,160.16 C384.40,159.98 384.90,159.80 385.40,159.61 C385.90,159.42 386.40,159.23 386.90,159.04 C387.40,158.84 387.90,158.65 388.40,158.45 C388.90,158.25 389.40,158.04 389.90,157.84 C390.40,157.63 390.90,157.42 391.40,157.21 C391.90,157.00 392.40,156.78 392.90,156.56 C393.40,156.35 393.90,156.12 394.40,155.90 C394.90,155.68 395.40,155.45 395.90,155.22 C396.40,155.00 396.90,154.77 397.40,154.53 C397.90,154.30 398.40,154.07 398.90,153.84 C399.40,153.61 399.90,153.37 400.40,153.14 C400.90,152.91 401.40,152.67 401.90,152.44 C402.40,152.21 402.90,151.98 403.40,151.75 C403.90,151.52 404.40,151.29 404.90,151.06 C405.40,150.83 405.90,150.61 406.40,150.38 C406.90,150.16 407.40,149.94 407.90,149.72 C408.40,149.51 408.90,149.29 409.40,149.08 C409.90,148.87 410.40,148.66 410.90,148.46 C411.40,148.26 411.90,148.06 412.40,147.86 C412.90,147.67 413.40,147.48 413.90,147.30 C414.40,147.12 414.90,146.94 415.40,146.77 C415.90,146.59 416.40,146.43 416.90,146.27 C417.40,146.11 417.90,145.96 418.40,145.81 C418.90,145.67 419.40,145.53 419.90,145.40 C420.40,145.27 420.90,145.15 421.40,145.03 C421.90,144.92 422.40,144.81 422.90,144.72 C423.40,144.62 423.90,144.53 424.40,144.44 C424.90,144.36 425.40,144.28 425.90,144.21 C426.40,144.14 426.90,144.08 427.40,144.03 C427.90,143.97 428.40,143.92 428.90,143.88 C429.40,143.84 429.90,143.81 430.40,143.78 C430.90,143.75 431.40,143.73 431.90,143.72 C432.40,143.71 432.90,143.70 433.40,143.70 C433.90,143.70 434.40,143.70 434.90,143.71 C435.40,143.73 435.90,143.74 436.40,143.77 C436.90,143.79 437.40,143.82 437.90,143.86 C438.40,143.89 438.90,143.93 439.40,143.98 C439.90,144.03 440.40,144.08 440.90,144.14 C441.40,144.19 441.90,144.26 442.40,144.33 C442.90,144.39 443.40,144.47 443.90,144.54 C444.40,144.62 444.90,144.70 445.40,144.79 C445.90,144.88 446.40,144.97 446.90,145.06 C447.40,145.16 447.90,145.26 448.40,145.36 C448.90,145.46 449.40,145.57 449.90,145.68 C450.40,145.78 450.90,145.90 451.40,146.01 C451.90,146.12 452.40,146.24 452.90,146.36 C453.40,146.48 453.90,146.60 454.40,146.73 C454.90,146.85 455.40,146.98 455.90,147.11 C456.40,147.23 456.90,147.36 457.40,147.49 C457.90,147.62 458.40,147.76 458.90,147.89 C459.40,148.02 459.90,148.16 460.40,148.29 C460.90,148.43 461.40,148.56 461.90,148.70 C462.40,148.83 462.90,148.97 463.40,149.10 C463.90,149.24 464.40,149.38 464.90,149.51 C465.40,149.65 465.90,149.79 466.40,149.93 C466.90,150.07 467.40,150.20 467.90,150.34 C468.40,150.48 468.90,150.62 469.40,150.76 C469.90,150.89 470.40,151.03 470.90,151.17 C471.40,151.31 471.90,151.45 472.40,151.59 C472.90,151.72 473.40,151.86 473.90,152.00 C474.40,152.14 474.90,152.28 475.40,152.42 C475.90,152.56 476.40,152.70 476.90,152.84 C477.40,152.98 477.90,153.12 478.40,153.26 C478.90,153.40 479.40,153.54 479.90,153.68 C480.40,153.82 480.90,153.96 481.40,154.10 C481.90,154.24 482.40,154.39 482.90,154.53 C483.40,154.67 483.90,154.82 484.40,154.96 C484.90,155.11 485.40,155.25 485.90,155.40 C486.40,155.54 486.90,155.69 487.40,155.83 C487.90,155.98 488.40,156.13 488.90,156.28 C489.40,156.43 489.90,156.57 490.40,156.72 C490.90,156.87 491.40,157.03 491.90,157.18 C492.40,157.33 492.90,157.48 493.40,157.63 C493.90,157.78 494.40,157.94 494.90,158.09 C495.40,158.24 495.90,158.40 496.40,158.55 C496.90,158.70 497.40,158.86 497.90,159.01 C498.40,159.16 498.90,159.32 499.40,159.47 C499.90,159.62 500.40,159.78 500.90,159.93 C501.40,160.08 501.90,160.24 502.40,160.39 C502.90,160.54 503.40,160.69 503.90,160.84 C504.40,161.00 504.90,161.15 505.40,161.30 C505.90,161.45 506.40,161.59 506.90,161.74 C507.40,161.89 507.90,162.04 508.40,162.19 C508.90,162.33 509.40,162.48 509.90,162.62 C510.40,162.77 510.90,162.91 511.40,163.05 C511.90,163.19 512.40,163.33 512.90,163.47 C513.40,163.61 513.90,163.75 514.40,163.88 C514.90,164.02 515.40,164.15 515.90,164.29 C516.40,164.42 516.90,164.55 517.40,164.68 C517.90,164.81 518.40,164.93 518.90,165.06 C519.40,165.18 519.90,165.31 520.40,165.43 C520.90,165.55 521.40,165.67 521.90,165.78 C522.40,165.90 522.90,166.01 523.40,166.12 C523.90,166.24 524.40,166.35 524.90,166.45 C525.40,166.56 525.90,166.66 526.40,166.76 C526.90,166.86 527.40,166.96 527.90,167.06 C528.40,167.15 528.90,167.24 529.40,167.33 C529.90,167.42 530.40,167.51 530.90,167.59 C531.40,167.67 531.90,167.75 532.40,167.83 C532.90,167.91 533.40,167.98 533.90,168.05 C534.40,168.12 534.90,168.19 535.40,168.25 C535.90,168.31 536.40,168.37 536.90,168.42 C537.40,168.48 537.90,168.53 538.40,168.58 C538.90,168.63 539.40,168.67 539.90,168.71 C540.40,168.75 540.92,168.78 541.40,168.81 C541.88,168.84 542.57,168.88 542.80,168.89" fill="none" stroke="#b8283a" stroke-width="1.7" stroke-linejoin="round"/>
<path d="M326.90,11.10H542.80V171.70" fill="none" stroke="#3a3a3a" stroke-width="1.5" stroke-linecap="square"/>
<path d="M326.90,11.10V171.70H542.80" fill="none" stroke="#1c1c1c" stroke-width="1.5" stroke-linecap="square"/>
<path d="M326.90,171.70v3.3 M366.88,171.70v3.3 M406.86,171.70v3.3 M446.84,171.70v3.3 M486.82,171.70v3.3 M526.80,171.70v3.3 M346.89,171.70v2 M386.87,171.70v2 M426.85,171.70v2 M466.83,171.70v2 M506.81,171.70v2 M326.90,171.70h-3.3 M326.90,148.76h-3.3 M326.90,125.81h-3.3 M326.90,102.87h-3.3 M326.90,79.93h-3.3 M326.90,56.99h-3.3 M326.90,34.04h-3.3 M326.90,11.10h-3.3 M326.90,160.23h-2 M326.90,137.29h-2 M326.90,114.34h-2 M326.90,91.40h-2 M326.90,68.46h-2 M326.90,45.51h-2 M326.90,22.57h-2" stroke="#1c1c1c" stroke-width="1.3" fill="none"/>
<text x="326.90" y="185.20" text-anchor="middle" class="tk" style="font-size:9.35px">450</text>
<text x="366.88" y="185.20" text-anchor="middle" class="tk" style="font-size:9.35px">500</text>
<text x="406.86" y="185.20" text-anchor="middle" class="tk" style="font-size:9.35px">550</text>
<text x="446.84" y="185.20" text-anchor="middle" class="tk" style="font-size:9.35px">600</text>
<text x="486.82" y="185.20" text-anchor="middle" class="tk" style="font-size:9.35px">650</text>
<text x="526.80" y="185.20" text-anchor="middle" class="tk" style="font-size:9.35px">700</text>
<text x="321.70" y="174.80" text-anchor="end" class="tk" style="font-size:9.35px">0.00</text>
<text x="321.70" y="151.86" text-anchor="end" class="tk" style="font-size:9.35px">0.05</text>
<text x="321.70" y="128.91" text-anchor="end" class="tk" style="font-size:9.35px">0.10</text>
<text x="321.70" y="105.97" text-anchor="end" class="tk" style="font-size:9.35px">0.15</text>
<text x="321.70" y="83.03" text-anchor="end" class="tk" style="font-size:9.35px">0.20</text>
<text x="321.70" y="60.09" text-anchor="end" class="tk" style="font-size:9.35px">0.25</text>
<text x="321.70" y="37.14" text-anchor="end" class="tk" style="font-size:9.35px">0.30</text>
<text x="321.70" y="14.20" text-anchor="end" class="tk" style="font-size:9.35px">0.35</text>
<text transform="translate(299.80,86.85) rotate(-90)" text-anchor="middle" class="tt" style="font-size:9.6px">Absorbance (a.u.)</text>
<text x="434.90" y="203.80" text-anchor="middle" class="tt">Wavelength (nm)</text>
<path d="M389.00,118.00H406.80" stroke="#3a3a3a" stroke-width="1.5"/>
<path d="M389.00,128.90H406.80" stroke="#c4505a" stroke-width="1.5"/>
<text x="409.50" y="121.10" class="lg" textLength="35.1" lengthAdjust="spacingAndGlyphs">Untreated</text>
<text x="409.50" y="132.00" class="lg" textLength="71.5" lengthAdjust="spacingAndGlyphs">Treated with HACC</text>
<text x="524.40" y="42.90" class="lt">b</text>
<path d="M41.20,370.13 C41.45,370.11 42.20,370.06 42.70,369.99 C43.20,369.93 43.70,369.84 44.20,369.75 C44.70,369.65 45.20,369.53 45.70,369.40 C46.20,369.28 46.70,369.13 47.20,368.98 C47.70,368.82 48.20,368.66 48.70,368.48 C49.20,368.30 49.70,368.11 50.20,367.91 C50.70,367.71 51.20,367.51 51.70,367.29 C52.20,367.08 52.70,366.86 53.20,366.63 C53.70,366.40 54.20,366.17 54.70,365.93 C55.20,365.69 55.70,365.45 56.20,365.21 C56.70,364.97 57.20,364.72 57.70,364.47 C58.20,364.23 58.70,363.98 59.20,363.73 C59.70,363.49 60.20,363.24 60.70,363.00 C61.20,362.76 61.70,362.52 62.20,362.28 C62.70,362.05 63.20,361.82 63.70,361.59 C64.20,361.37 64.70,361.15 65.20,360.94 C65.70,360.73 66.20,360.53 66.70,360.33 C67.20,360.14 67.70,359.96 68.20,359.78 C68.70,359.61 69.20,359.45 69.70,359.30 C70.20,359.15 70.70,359.01 71.20,358.87 C71.70,358.73 72.20,358.61 72.70,358.48 C73.20,358.35 73.70,358.22 74.20,358.09 C74.70,357.96 75.20,357.83 75.70,357.69 C76.20,357.55 76.70,357.41 77.20,357.25 C77.70,357.10 78.20,356.94 78.70,356.76 C79.20,356.58 79.70,356.39 80.20,356.17 C80.70,355.96 81.20,355.73 81.70,355.48 C82.20,355.23 82.70,354.96 83.20,354.66 C83.70,354.36 84.20,354.04 84.70,353.68 C85.20,353.32 85.70,352.94 86.20,352.52 C86.70,352.11 87.20,351.66 87.70,351.18 C88.20,350.71 88.70,350.20 89.20,349.68 C89.70,349.15 90.20,348.59 90.70,348.01 C91.20,347.44 91.70,346.83 92.20,346.21 C92.70,345.59 93.20,344.95 93.70,344.29 C94.20,343.63 94.70,342.95 95.20,342.25 C95.70,341.56 96.20,340.84 96.70,340.12 C97.20,339.39 97.70,338.65 98.20,337.90 C98.70,337.15 99.20,336.39 99.70,335.62 C100.20,334.85 100.70,334.06 101.20,333.28 C101.70,332.49 102.20,331.70 102.70,330.90 C103.20,330.10 103.70,329.30 104.20,328.50 C104.70,327.70 105.20,326.89 105.70,326.09 C106.20,325.28 106.70,324.48 107.20,323.68 C107.70,322.88 108.20,322.08 108.70,321.28 C109.20,320.49 109.70,319.70 110.20,318.91 C110.70,318.12 111.20,317.34 111.70,316.56 C112.20,315.78 112.70,315.00 113.20,314.22 C113.70,313.44 114.20,312.67 114.70,311.90 C115.20,311.12 115.70,310.35 116.20,309.58 C116.70,308.81 117.20,308.04 117.70,307.27 C118.20,306.50 118.70,305.74 119.20,304.97 C119.70,304.20 120.20,303.44 120.70,302.67 C121.20,301.90 121.70,301.13 122.20,300.37 C122.70,299.60 123.20,298.83 123.70,298.06 C124.20,297.29 124.70,296.52 125.20,295.75 C125.70,294.98 126.20,294.20 126.70,293.43 C127.20,292.65 127.70,291.87 128.20,291.10 C128.70,290.32 129.20,289.54 129.70,288.77 C130.20,288.00 130.70,287.22 131.20,286.45 C131.70,285.69 132.20,284.92 132.70,284.17 C133.20,283.41 133.70,282.66 134.20,281.92 C134.70,281.18 135.20,280.44 135.70,279.72 C136.20,279.00 136.70,278.29 137.20,277.59 C137.70,276.89 138.20,276.20 138.70,275.54 C139.20,274.87 139.70,274.21 140.20,273.57 C140.70,272.93 141.20,272.31 141.70,271.71 C142.20,271.11 142.70,270.53 143.20,269.97 C143.70,269.41 144.20,268.87 144.70,268.35 C145.20,267.84 145.70,267.34 146.20,266.88 C146.70,266.41 147.20,265.97 147.70,265.56 C148.20,265.15 148.70,264.76 149.20,264.41 C149.70,264.05 150.20,263.73 150.70,263.43 C151.20,263.13 151.70,262.87 152.20,262.63 C152.70,262.39 153.20,262.18 153.70,262.01 C154.20,261.83 154.70,261.68 155.20,261.56 C155.70,261.44 156.20,261.34 156.70,261.28 C157.20,261.22 157.70,261.18 158.20,261.18 C158.70,261.17 159.20,261.20 159.70,261.25 C160.20,261.30 160.70,261.39 161.20,261.50 C161.70,261.61 162.20,261.74 162.70,261.91 C163.20,262.08 163.70,262.27 164.20,262.50 C164.70,262.72 165.20,262.97 165.70,263.25 C166.20,263.53 166.70,263.84 167.20,264.18 C167.70,264.52 168.20,264.88 168.70,265.28 C169.20,265.67 169.70,266.09 170.20,266.54 C170.70,266.99 171.20,267.47 171.70,267.97 C172.20,268.47 172.70,269.01 173.20,269.57 C173.70,270.13 174.20,270.71 174.70,271.32 C175.20,271.93 175.70,272.57 176.20,273.23 C176.70,273.89 177.20,274.57 177.70,275.27 C178.20,275.97 178.70,276.70 179.20,277.44 C179.70,278.18 180.20,278.94 180.70,279.71 C181.20,280.49 181.70,281.29 182.20,282.09 C182.70,282.90 183.20,283.72 183.70,284.56 C184.20,285.39 184.70,286.24 185.20,287.10 C185.70,287.96 186.20,288.83 186.70,289.71 C187.20,290.59 187.70,291.47 188.20,292.37 C188.70,293.27 189.20,294.17 189.70,295.09 C190.20,296.01 190.70,296.94 191.20,297.89 C191.70,298.83 192.20,299.79 192.70,300.77 C193.20,301.75 193.70,302.74 194.20,303.75 C194.70,304.77 195.20,305.80 195.70,306.86 C196.20,307.92 196.70,309.00 197.20,310.10 C197.70,311.20 198.20,312.33 198.70,313.49 C199.20,314.65 199.70,315.83 200.20,317.04 C200.70,318.26 201.20,319.50 201.70,320.77 C202.20,322.05 202.70,323.36 203.20,324.70 C203.70,326.03 204.20,327.39 204.70,328.76 C205.20,330.14 205.70,331.53 206.20,332.92 C206.70,334.31 207.20,335.71 207.70,337.10 C208.20,338.49 208.70,339.88 209.20,341.24 C209.70,342.61 210.20,343.96 210.70,345.29 C211.20,346.61 211.70,347.92 212.20,349.21 C212.70,350.49 213.20,351.75 213.70,352.99 C214.20,354.23 214.70,355.44 215.20,356.63 C215.70,357.81 216.20,358.98 216.70,360.11 C217.20,361.24 217.70,362.35 218.20,363.43 C218.70,364.51 219.20,365.56 219.70,366.57 C220.20,367.59 220.70,368.58 221.20,369.53 C221.70,370.49 222.20,371.41 222.70,372.30 C223.20,373.19 223.70,374.05 224.20,374.87 C224.70,375.69 225.20,376.48 225.70,377.24 C226.20,378.00 226.70,378.73 227.20,379.43 C227.70,380.13 228.20,380.80 228.70,381.44 C229.20,382.08 229.70,382.69 230.20,383.27 C230.70,383.86 231.20,384.41 231.70,384.94 C232.20,385.48 232.70,385.98 233.20,386.46 C233.70,386.94 234.20,387.40 234.70,387.83 C235.20,388.26 235.70,388.67 236.20,389.06 C236.70,389.45 237.20,389.81 237.70,390.16 C238.20,390.50 238.70,390.83 239.20,391.13 C239.70,391.44 240.20,391.72 240.70,391.99 C241.20,392.26 241.70,392.51 242.20,392.74 C242.70,392.97 243.20,393.19 243.70,393.39 C244.20,393.59 244.70,393.78 245.20,393.95 C245.70,394.12 246.20,394.28 246.70,394.42 C247.20,394.57 247.70,394.70 248.20,394.82 C248.70,394.94 249.20,395.05 249.70,395.14 C250.20,395.24 250.70,395.33 251.20,395.41 C251.70,395.49 252.20,395.56 252.70,395.63 C253.20,395.69 253.70,395.74 254.20,395.79 C254.70,395.84 255.20,395.89 255.70,395.93 C256.20,395.96 256.72,396.00 257.20,396.03 C257.68,396.06 258.37,396.09 258.60,396.10" fill="none" stroke="#111" stroke-width="1.3" stroke-linejoin="round"/>
<path d="M41.20,391.42 C41.45,391.38 42.20,391.28 42.70,391.22 C43.20,391.15 43.70,391.09 44.20,391.03 C44.70,390.97 45.20,390.91 45.70,390.85 C46.20,390.79 46.70,390.74 47.20,390.68 C47.70,390.63 48.20,390.58 48.70,390.53 C49.20,390.48 49.70,390.43 50.20,390.38 C50.70,390.33 51.20,390.28 51.70,390.24 C52.20,390.19 52.70,390.15 53.20,390.11 C53.70,390.06 54.20,390.02 54.70,389.98 C55.20,389.94 55.70,389.90 56.20,389.86 C56.70,389.82 57.20,389.79 57.70,389.75 C58.20,389.71 58.70,389.68 59.20,389.64 C59.70,389.60 60.20,389.57 60.70,389.53 C61.20,389.50 61.70,389.47 62.20,389.43 C62.70,389.40 63.20,389.37 63.70,389.33 C64.20,389.30 64.70,389.27 65.20,389.24 C65.70,389.20 66.20,389.17 66.70,389.14 C67.20,389.11 67.70,389.08 68.20,389.04 C68.70,389.01 69.20,388.98 69.70,388.95 C70.20,388.91 70.70,388.88 71.20,388.85 C71.70,388.82 72.20,388.78 72.70,388.75 C73.20,388.72 73.70,388.68 74.20,388.65 C74.70,388.61 75.20,388.58 75.70,388.54 C76.20,388.50 76.70,388.47 77.20,388.43 C77.70,388.39 78.20,388.36 78.70,388.32 C79.20,388.28 79.70,388.24 80.20,388.20 C80.70,388.15 81.20,388.11 81.70,388.07 C82.20,388.03 82.70,387.98 83.20,387.93 C83.70,387.89 84.20,387.84 84.70,387.79 C85.20,387.74 85.70,387.69 86.20,387.64 C86.70,387.59 87.20,387.54 87.70,387.48 C88.20,387.43 88.70,387.37 89.20,387.31 C89.70,387.26 90.20,387.20 90.70,387.13 C91.20,387.07 91.70,387.01 92.20,386.94 C92.70,386.88 93.20,386.81 93.70,386.74 C94.20,386.67 94.70,386.60 95.20,386.52 C95.70,386.45 96.20,386.37 96.70,386.29 C97.20,386.21 97.70,386.13 98.20,386.05 C98.70,385.96 99.20,385.87 99.70,385.78 C100.20,385.70 100.70,385.60 101.20,385.51 C101.70,385.41 102.20,385.32 102.70,385.22 C103.20,385.12 103.70,385.01 104.20,384.91 C104.70,384.80 105.20,384.69 105.70,384.58 C106.20,384.47 106.70,384.35 107.20,384.23 C107.70,384.11 108.20,383.99 108.70,383.86 C109.20,383.74 109.70,383.61 110.20,383.48 C110.70,383.34 111.20,383.21 111.70,383.07 C112.20,382.93 112.70,382.79 113.20,382.64 C113.70,382.49 114.20,382.34 114.70,382.19 C115.20,382.03 115.70,381.88 116.20,381.72 C116.70,381.56 117.20,381.39 117.70,381.23 C118.20,381.07 118.70,380.90 119.20,380.73 C119.70,380.56 120.20,380.39 120.70,380.23 C121.20,380.06 121.70,379.88 122.20,379.71 C122.70,379.54 123.20,379.37 123.70,379.20 C124.20,379.03 124.70,378.86 125.20,378.69 C125.70,378.52 126.20,378.35 126.70,378.18 C127.20,378.02 127.70,377.85 128.20,377.69 C128.70,377.53 129.20,377.36 129.70,377.21 C130.20,377.05 130.70,376.89 131.20,376.74 C131.70,376.59 132.20,376.44 132.70,376.29 C133.20,376.15 133.70,376.01 134.20,375.87 C134.70,375.74 135.20,375.60 135.70,375.48 C136.20,375.35 136.70,375.23 137.20,375.11 C137.70,375.00 138.20,374.89 138.70,374.78 C139.20,374.68 139.70,374.58 140.20,374.49 C140.70,374.40 141.20,374.32 141.70,374.24 C142.20,374.17 142.70,374.10 143.20,374.04 C143.70,373.98 144.20,373.93 144.70,373.88 C145.20,373.84 145.70,373.80 146.20,373.78 C146.70,373.75 147.20,373.73 147.70,373.72 C148.20,373.70 148.70,373.70 149.20,373.70 C149.70,373.70 150.20,373.71 150.70,373.73 C151.20,373.74 151.70,373.77 152.20,373.80 C152.70,373.83 153.20,373.86 153.70,373.90 C154.20,373.95 154.70,374.00 155.20,374.05 C155.70,374.10 156.20,374.16 156.70,374.23 C157.20,374.29 157.70,374.36 158.20,374.44 C158.70,374.52 159.20,374.60 159.70,374.68 C160.20,374.77 160.70,374.86 161.20,374.95 C161.70,375.05 162.20,375.15 162.70,375.25 C163.20,375.35 163.70,375.45 164.20,375.56 C164.70,375.67 165.20,375.78 165.70,375.89 C166.20,376.01 166.70,376.12 167.20,376.24 C167.70,376.35 168.20,376.47 168.70,376.59 C169.20,376.70 169.70,376.82 170.20,376.94 C170.70,377.06 171.20,377.17 171.70,377.29 C172.20,377.41 172.70,377.53 173.20,377.64 C173.70,377.76 174.20,377.88 174.70,377.99 C175.20,378.11 175.70,378.23 176.20,378.34 C176.70,378.46 177.20,378.57 177.70,378.69 C178.20,378.80 178.70,378.91 179.20,379.03 C179.70,379.14 180.20,379.25 180.70,379.37 C181.20,379.48 181.70,379.59 182.20,379.70 C182.70,379.81 183.20,379.92 183.70,380.03 C184.20,380.14 184.70,380.25 185.20,380.36 C185.70,380.46 186.20,380.57 186.70,380.68 C187.20,380.79 187.70,380.89 188.20,381.00 C188.70,381.11 189.20,381.21 189.70,381.32 C190.20,381.43 190.70,381.54 191.20,381.64 C191.70,381.75 192.20,381.86 192.70,381.97 C193.20,382.08 193.70,382.19 194.20,382.30 C194.70,382.41 195.20,382.52 195.70,382.63 C196.20,382.75 196.70,382.86 197.20,382.98 C197.70,383.09 198.20,383.21 198.70,383.33 C199.20,383.44 199.70,383.56 200.20,383.69 C200.70,383.81 201.20,383.93 201.70,384.06 C202.20,384.18 202.70,384.31 203.20,384.44 C203.70,384.57 204.20,384.70 204.70,384.83 C205.20,384.97 205.70,385.10 206.20,385.24 C206.70,385.37 207.20,385.51 207.70,385.65 C208.20,385.79 208.70,385.93 209.20,386.07 C209.70,386.21 210.20,386.35 210.70,386.49 C211.20,386.63 211.70,386.78 212.20,386.92 C212.70,387.06 213.20,387.21 213.70,387.35 C214.20,387.50 214.70,387.64 215.20,387.79 C215.70,387.93 216.20,388.07 216.70,388.22 C217.20,388.36 217.70,388.51 218.20,388.65 C218.70,388.79 219.20,388.94 219.70,389.08 C220.20,389.22 220.70,389.36 221.20,389.50 C221.70,389.64 222.20,389.78 222.70,389.92 C223.20,390.06 223.70,390.20 224.20,390.34 C224.70,390.47 225.20,390.61 225.70,390.74 C226.20,390.88 226.70,391.01 227.20,391.14 C227.70,391.27 228.20,391.41 228.70,391.53 C229.20,391.66 229.70,391.79 230.20,391.91 C230.70,392.04 231.20,392.16 231.70,392.28 C232.20,392.41 232.70,392.53 233.20,392.64 C233.70,392.76 234.20,392.88 234.70,392.99 C235.20,393.10 235.70,393.21 236.20,393.32 C236.70,393.43 237.20,393.54 237.70,393.64 C238.20,393.74 238.70,393.84 239.20,393.94 C239.70,394.04 240.20,394.14 240.70,394.23 C241.20,394.32 241.70,394.41 242.20,394.50 C242.70,394.58 243.20,394.67 243.70,394.75 C244.20,394.83 244.70,394.91 245.20,394.98 C245.70,395.06 246.20,395.13 246.70,395.19 C247.20,395.26 247.70,395.32 248.20,395.38 C248.70,395.44 249.20,395.50 249.70,395.55 C250.20,395.61 250.70,395.66 251.20,395.70 C251.70,395.75 252.20,395.79 252.70,395.82 C253.20,395.86 253.70,395.89 254.20,395.92 C254.70,395.95 255.20,395.97 255.70,395.99 C256.20,396.01 256.72,396.03 257.20,396.04 C257.68,396.05 258.37,396.06 258.60,396.06" fill="none" stroke="#b8283a" stroke-width="1.7" stroke-linejoin="round"/>
<path d="M41.20,237.90H258.60V398.80" fill="none" stroke="#3a3a3a" stroke-width="1.5" stroke-linecap="square"/>
<path d="M41.20,237.90V398.80H258.60" fill="none" stroke="#1c1c1c" stroke-width="1.5" stroke-linecap="square"/>
<path d="M41.20,398.80v3.3 M95.55,398.80v3.3 M149.90,398.80v3.3 M204.25,398.80v3.3 M258.60,398.80v3.3 M68.38,398.80v2 M122.73,398.80v2 M177.08,398.80v2 M231.43,398.80v2 M41.20,398.80h-3.3 M41.20,373.98h-3.3 M41.20,349.17h-3.3 M41.20,324.35h-3.3 M41.20,299.53h-3.3 M41.20,274.72h-3.3 M41.20,249.90h-3.3 M41.20,386.39h-2 M41.20,361.57h-2 M41.20,336.76h-2 M41.20,311.94h-2 M41.20,287.12h-2 M41.20,262.31h-2" stroke="#1c1c1c" stroke-width="1.3" fill="none"/>
<text x="41.20" y="412.00" text-anchor="middle" class="tk" style="font-size:9.35px">400</text>
<text x="95.55" y="412.00" text-anchor="middle" class="tk" style="font-size:9.35px">450</text>
<text x="149.90" y="412.00" text-anchor="middle" class="tk" style="font-size:9.35px">500</text>
<text x="204.25" y="412.00" text-anchor="middle" class="tk" style="font-size:9.35px">550</text>
<text x="258.60" y="412.00" text-anchor="middle" class="tk" style="font-size:9.35px">600</text>
<text x="36.00" y="401.90" text-anchor="end" class="tk" style="font-size:9.35px">0.0</text>
<text x="36.00" y="377.08" text-anchor="end" class="tk" style="font-size:9.35px">0.1</text>
<text x="36.00" y="352.27" text-anchor="end" class="tk" style="font-size:9.35px">0.2</text>
<text x="36.00" y="327.45" text-anchor="end" class="tk" style="font-size:9.35px">0.3</text>
<text x="36.00" y="302.63" text-anchor="end" class="tk" style="font-size:9.35px">0.4</text>
<text x="36.00" y="277.82" text-anchor="end" class="tk" style="font-size:9.35px">0.5</text>
<text x="36.00" y="253.00" text-anchor="end" class="tk" style="font-size:9.35px">0.6</text>
<text transform="translate(12.50,321.05) rotate(-90)" text-anchor="middle" class="tt" style="font-size:9.85px">Absorbance (a.u.)</text>
<text x="150.00" y="426.60" text-anchor="middle" class="tt">Wavelength (nm)</text>
<path d="M107.70,343.10H125.90" stroke="#3a3a3a" stroke-width="1.5"/>
<path d="M107.70,353.60H125.90" stroke="#c4505a" stroke-width="1.5"/>
<text x="127.70" y="346.40" class="lg" textLength="35.8" lengthAdjust="spacingAndGlyphs">Untreated</text>
<text x="127.70" y="356.70" class="lg" textLength="72.8" lengthAdjust="spacingAndGlyphs">Treated with HACC</text>
<text x="240.40" y="270.40" class="lt">c</text>
<path d="M319.00,372.89 C319.25,372.99 320.00,373.31 320.50,373.51 C321.00,373.72 321.50,373.91 322.00,374.09 C322.50,374.28 323.00,374.46 323.50,374.63 C324.00,374.80 324.50,374.96 325.00,375.11 C325.50,375.26 326.00,375.41 326.50,375.55 C327.00,375.68 327.50,375.81 328.00,375.93 C328.50,376.05 329.00,376.16 329.50,376.26 C330.00,376.37 330.50,376.46 331.00,376.54 C331.50,376.63 332.00,376.70 332.50,376.77 C333.00,376.83 333.50,376.89 334.00,376.94 C334.50,376.99 335.00,377.02 335.50,377.05 C336.00,377.08 336.50,377.10 337.00,377.11 C337.50,377.12 338.00,377.11 338.50,377.10 C339.00,377.09 339.50,377.07 340.00,377.04 C340.50,377.01 341.00,376.96 341.50,376.91 C342.00,376.86 342.50,376.80 343.00,376.72 C343.50,376.65 344.00,376.56 344.50,376.47 C345.00,376.37 345.50,376.27 346.00,376.15 C346.50,376.03 347.00,375.91 347.50,375.77 C348.00,375.63 348.50,375.47 349.00,375.31 C349.50,375.15 350.00,374.98 350.50,374.79 C351.00,374.60 351.50,374.41 352.00,374.20 C352.50,373.99 353.00,373.77 353.50,373.53 C354.00,373.30 354.50,373.05 355.00,372.80 C355.50,372.54 356.00,372.27 356.50,371.98 C357.00,371.70 357.50,371.41 358.00,371.10 C358.50,370.79 359.00,370.47 359.50,370.14 C360.00,369.80 360.50,369.45 361.00,369.09 C361.50,368.73 362.00,368.36 362.50,367.98 C363.00,367.59 363.50,367.19 364.00,366.78 C364.50,366.36 365.00,365.94 365.50,365.49 C366.00,365.05 366.50,364.60 367.00,364.13 C367.50,363.66 368.00,363.18 368.50,362.68 C369.00,362.18 369.50,361.66 370.00,361.14 C370.50,360.61 371.00,360.06 371.50,359.50 C372.00,358.94 372.50,358.37 373.00,357.77 C373.50,357.18 374.00,356.57 374.50,355.95 C375.00,355.32 375.50,354.68 376.00,354.02 C376.50,353.36 377.00,352.69 377.50,351.99 C378.00,351.30 378.50,350.59 379.00,349.86 C379.50,349.13 380.00,348.38 380.50,347.62 C381.00,346.85 381.50,346.07 382.00,345.26 C382.50,344.46 383.00,343.64 383.50,342.80 C384.00,341.96 384.50,341.10 385.00,340.22 C385.50,339.34 386.00,338.43 386.50,337.52 C387.00,336.61 387.50,335.67 388.00,334.73 C388.50,333.79 389.00,332.84 389.50,331.87 C390.00,330.91 390.50,329.94 391.00,328.97 C391.50,327.99 392.00,327.01 392.50,326.03 C393.00,325.05 393.50,324.06 394.00,323.08 C394.50,322.10 395.00,321.12 395.50,320.15 C396.00,319.17 396.50,318.21 397.00,317.24 C397.50,316.27 398.00,315.31 398.50,314.36 C399.00,313.40 399.50,312.44 400.00,311.49 C400.50,310.54 401.00,309.59 401.50,308.64 C402.00,307.69 402.50,306.75 403.00,305.80 C403.50,304.86 404.00,303.92 404.50,302.97 C405.00,302.03 405.50,301.09 406.00,300.15 C406.50,299.21 407.00,298.27 407.50,297.33 C408.00,296.39 408.50,295.45 409.00,294.50 C409.50,293.56 410.00,292.62 410.50,291.67 C411.00,290.73 411.50,289.78 412.00,288.84 C412.50,287.89 413.00,286.94 413.50,285.98 C414.00,285.03 414.50,284.08 415.00,283.12 C415.50,282.16 416.00,281.20 416.50,280.23 C417.00,279.26 417.50,278.29 418.00,277.32 C418.50,276.35 419.00,275.37 419.50,274.38 C420.00,273.40 420.50,272.41 421.00,271.42 C421.50,270.42 422.00,269.41 422.50,268.42 C423.00,267.43 423.50,266.43 424.00,265.47 C424.50,264.51 425.00,263.56 425.50,262.67 C426.00,261.79 426.50,260.93 427.00,260.15 C427.50,259.38 428.00,258.65 428.50,258.02 C429.00,257.39 429.50,256.83 430.00,256.39 C430.50,255.95 431.00,255.61 431.50,255.37 C432.00,255.13 432.50,254.99 433.00,254.93 C433.50,254.87 434.00,254.91 434.50,255.00 C435.00,255.10 435.50,255.28 436.00,255.49 C436.50,255.71 437.00,255.99 437.50,256.28 C438.00,256.57 438.50,256.92 439.00,257.25 C439.50,257.58 440.00,257.94 440.50,258.27 C441.00,258.59 441.50,258.93 442.00,259.22 C442.50,259.51 443.00,259.78 443.50,259.99 C444.00,260.19 444.50,260.35 445.00,260.46 C445.50,260.57 446.00,260.62 446.50,260.63 C447.00,260.64 447.50,260.61 448.00,260.55 C448.50,260.49 449.00,260.38 449.50,260.26 C450.00,260.14 450.50,259.98 451.00,259.82 C451.50,259.65 452.00,259.46 452.50,259.27 C453.00,259.08 453.50,258.86 454.00,258.66 C454.50,258.46 455.00,258.25 455.50,258.05 C456.00,257.85 456.50,257.65 457.00,257.48 C457.50,257.30 458.00,257.13 458.50,257.00 C459.00,256.86 459.50,256.74 460.00,256.66 C460.50,256.58 461.00,256.52 461.50,256.51 C462.00,256.50 462.50,256.52 463.00,256.60 C463.50,256.68 464.00,256.79 464.50,256.98 C465.00,257.16 465.50,257.39 466.00,257.70 C466.50,258.00 467.00,258.36 467.50,258.81 C468.00,259.27 468.50,259.79 469.00,260.43 C469.50,261.08 470.00,261.80 470.50,262.67 C471.00,263.54 471.50,264.52 472.00,265.66 C472.50,266.79 473.00,268.05 473.50,269.50 C474.00,270.94 474.50,272.53 475.00,274.32 C475.50,276.10 476.00,278.07 476.50,280.23 C477.00,282.38 477.50,284.74 478.00,287.25 C478.50,289.75 479.00,292.47 479.50,295.26 C480.00,298.05 480.50,301.02 481.00,303.99 C481.50,306.96 482.00,310.06 482.50,313.07 C483.00,316.08 483.50,319.15 484.00,322.07 C484.50,324.98 485.00,327.87 485.50,330.58 C486.00,333.29 486.50,335.90 487.00,338.32 C487.50,340.74 488.00,343.00 488.50,345.11 C489.00,347.22 489.50,349.15 490.00,350.98 C490.50,352.81 491.00,354.49 491.50,356.09 C492.00,357.68 492.50,359.16 493.00,360.57 C493.50,361.97 494.00,363.28 494.50,364.53 C495.00,365.78 495.50,366.94 496.00,368.06 C496.50,369.17 497.00,370.22 497.50,371.23 C498.00,372.24 498.50,373.20 499.00,374.12 C499.50,375.05 500.00,375.93 500.50,376.77 C501.00,377.61 501.50,378.41 502.00,379.18 C502.50,379.94 503.00,380.67 503.50,381.36 C504.00,382.06 504.50,382.71 505.00,383.34 C505.50,383.96 506.00,384.55 506.50,385.11 C507.00,385.66 507.50,386.19 508.00,386.69 C508.50,387.18 509.00,387.65 509.50,388.09 C510.00,388.53 510.50,388.94 511.00,389.32 C511.50,389.71 512.00,390.07 512.50,390.40 C513.00,390.74 513.50,391.05 514.00,391.34 C514.50,391.63 515.00,391.89 515.50,392.14 C516.00,392.39 516.50,392.62 517.00,392.82 C517.50,393.03 518.00,393.22 518.50,393.40 C519.00,393.57 519.50,393.73 520.00,393.87 C520.50,394.02 521.00,394.14 521.50,394.26 C522.00,394.38 522.50,394.48 523.00,394.58 C523.50,394.67 524.00,394.75 524.50,394.83 C525.00,394.90 525.50,394.97 526.00,395.03 C526.50,395.08 527.00,395.14 527.50,395.18 C528.00,395.23 528.50,395.27 529.00,395.31 C529.50,395.35 530.00,395.39 530.50,395.43 C531.00,395.46 531.50,395.50 532.00,395.53 C532.50,395.57 533.00,395.60 533.50,395.64 C534.00,395.69 534.50,395.73 535.00,395.77 C535.50,395.82 536.08,395.89 536.50,395.93 C536.92,395.98 537.33,396.04 537.50,396.06" fill="none" stroke="#111" stroke-width="1.3" stroke-linejoin="round"/>
<path d="M319.00,394.80 C319.25,394.81 320.00,394.83 320.50,394.84 C321.00,394.86 321.50,394.87 322.00,394.89 C322.50,394.90 323.00,394.92 323.50,394.93 C324.00,394.95 324.50,394.97 325.00,394.98 C325.50,395.00 326.00,395.02 326.50,395.04 C327.00,395.05 327.50,395.07 328.00,395.09 C328.50,395.11 329.00,395.13 329.50,395.14 C330.00,395.16 330.50,395.18 331.00,395.20 C331.50,395.22 332.00,395.24 332.50,395.25 C333.00,395.27 333.50,395.29 334.00,395.31 C334.50,395.33 335.00,395.35 335.50,395.36 C336.00,395.38 336.50,395.40 337.00,395.42 C337.50,395.43 338.00,395.45 338.50,395.47 C339.00,395.48 339.50,395.50 340.00,395.51 C340.50,395.53 341.00,395.54 341.50,395.56 C342.00,395.57 342.50,395.59 343.00,395.60 C343.50,395.61 344.00,395.62 344.50,395.64 C345.00,395.65 345.50,395.66 346.00,395.67 C346.50,395.68 347.00,395.69 347.50,395.70 C348.00,395.71 348.50,395.71 349.00,395.72 C349.50,395.73 350.00,395.73 350.50,395.74 C351.00,395.74 351.50,395.74 352.00,395.75 C352.50,395.75 353.00,395.75 353.50,395.75 C354.00,395.75 354.50,395.75 355.00,395.75 C355.50,395.74 356.00,395.74 356.50,395.73 C357.00,395.73 357.50,395.72 358.00,395.71 C358.50,395.71 359.00,395.70 359.50,395.68 C360.00,395.67 360.50,395.66 361.00,395.65 C361.50,395.63 362.00,395.62 362.50,395.60 C363.00,395.58 363.50,395.56 364.00,395.54 C364.50,395.52 365.00,395.50 365.50,395.48 C366.00,395.46 366.50,395.44 367.00,395.41 C367.50,395.39 368.00,395.36 368.50,395.33 C369.00,395.31 369.50,395.28 370.00,395.25 C370.50,395.22 371.00,395.19 371.50,395.16 C372.00,395.13 372.50,395.09 373.00,395.06 C373.50,395.03 374.00,394.99 374.50,394.96 C375.00,394.92 375.50,394.89 376.00,394.85 C376.50,394.81 377.00,394.77 377.50,394.74 C378.00,394.70 378.50,394.66 379.00,394.62 C379.50,394.58 380.00,394.54 380.50,394.50 C381.00,394.46 381.50,394.41 382.00,394.37 C382.50,394.33 383.00,394.28 383.50,394.24 C384.00,394.20 384.50,394.15 385.00,394.11 C385.50,394.06 386.00,394.02 386.50,393.97 C387.00,393.93 387.50,393.88 388.00,393.84 C388.50,393.79 389.00,393.74 389.50,393.70 C390.00,393.65 390.50,393.60 391.00,393.56 C391.50,393.51 392.00,393.46 392.50,393.41 C393.00,393.37 393.50,393.32 394.00,393.27 C394.50,393.22 395.00,393.17 395.50,393.13 C396.00,393.08 396.50,393.03 397.00,392.98 C397.50,392.94 398.00,392.89 398.50,392.84 C399.00,392.79 399.50,392.75 400.00,392.70 C400.50,392.65 401.00,392.60 401.50,392.56 C402.00,392.51 402.50,392.46 403.00,392.42 C403.50,392.37 404.00,392.33 404.50,392.28 C405.00,392.24 405.50,392.19 406.00,392.15 C406.50,392.10 407.00,392.06 407.50,392.02 C408.00,391.97 408.50,391.93 409.00,391.89 C409.50,391.85 410.00,391.81 410.50,391.77 C411.00,391.72 411.50,391.68 412.00,391.65 C412.50,391.61 413.00,391.57 413.50,391.53 C414.00,391.49 414.50,391.46 415.00,391.42 C415.50,391.39 416.00,391.35 416.50,391.32 C417.00,391.28 417.50,391.25 418.00,391.22 C418.50,391.19 419.00,391.16 419.50,391.13 C420.00,391.10 420.50,391.07 421.00,391.04 C421.50,391.02 422.00,390.99 422.50,390.96 C423.00,390.94 423.50,390.92 424.00,390.89 C424.50,390.87 425.00,390.85 425.50,390.83 C426.00,390.81 426.50,390.80 427.00,390.78 C427.50,390.76 428.00,390.75 428.50,390.74 C429.00,390.72 429.50,390.71 430.00,390.70 C430.50,390.69 431.00,390.68 431.50,390.68 C432.00,390.67 432.50,390.66 433.00,390.66 C433.50,390.66 434.00,390.66 434.50,390.66 C435.00,390.66 435.50,390.66 436.00,390.66 C436.50,390.67 437.00,390.67 437.50,390.68 C438.00,390.69 438.50,390.70 439.00,390.71 C439.50,390.72 440.00,390.74 440.50,390.75 C441.00,390.77 441.50,390.79 442.00,390.81 C442.50,390.83 443.00,390.85 443.50,390.87 C444.00,390.89 444.50,390.92 445.00,390.94 C445.50,390.97 446.00,390.99 446.50,391.02 C447.00,391.05 447.50,391.07 448.00,391.10 C448.50,391.13 449.00,391.16 449.50,391.19 C450.00,391.21 450.50,391.24 451.00,391.27 C451.50,391.30 452.00,391.32 452.50,391.35 C453.00,391.37 453.50,391.40 454.00,391.42 C454.50,391.45 455.00,391.47 455.50,391.49 C456.00,391.52 456.50,391.54 457.00,391.56 C457.50,391.58 458.00,391.60 458.50,391.61 C459.00,391.63 459.50,391.65 460.00,391.67 C460.50,391.68 461.00,391.70 461.50,391.72 C462.00,391.73 462.50,391.75 463.00,391.76 C463.50,391.78 464.00,391.79 464.50,391.81 C465.00,391.83 465.50,391.84 466.00,391.86 C466.50,391.88 467.00,391.89 467.50,391.91 C468.00,391.93 468.50,391.95 469.00,391.97 C469.50,391.99 470.00,392.01 470.50,392.03 C471.00,392.05 471.50,392.08 472.00,392.10 C472.50,392.12 473.00,392.15 473.50,392.18 C474.00,392.20 474.50,392.23 475.00,392.26 C475.50,392.29 476.00,392.32 476.50,392.35 C477.00,392.38 477.50,392.42 478.00,392.45 C478.50,392.49 479.00,392.52 479.50,392.56 C480.00,392.60 480.50,392.64 481.00,392.68 C481.50,392.72 482.00,392.76 482.50,392.81 C483.00,392.85 483.50,392.90 484.00,392.95 C484.50,392.99 485.00,393.04 485.50,393.09 C486.00,393.15 486.50,393.20 487.00,393.25 C487.50,393.31 488.00,393.36 488.50,393.42 C489.00,393.48 489.50,393.54 490.00,393.60 C490.50,393.66 491.00,393.73 491.50,393.79 C492.00,393.86 492.50,393.93 493.00,394.00 C493.50,394.07 494.00,394.14 494.50,394.21 C495.00,394.28 495.50,394.35 496.00,394.42 C496.50,394.50 497.00,394.57 497.50,394.65 C498.00,394.72 498.50,394.80 499.00,394.87 C499.50,394.95 500.00,395.02 500.50,395.10 C501.00,395.17 501.50,395.25 502.00,395.33 C502.50,395.40 503.00,395.48 503.50,395.55 C504.00,395.63 504.50,395.70 505.00,395.78 C505.50,395.85 506.00,395.92 506.50,395.99 C507.00,396.07 507.50,396.14 508.00,396.21 C508.50,396.27 509.00,396.34 509.50,396.41 C510.00,396.48 510.50,396.54 511.00,396.60 C511.50,396.67 512.00,396.73 512.50,396.79 C513.00,396.85 513.50,396.90 514.00,396.96 C514.50,397.01 515.00,397.06 515.50,397.11 C516.00,397.16 516.50,397.21 517.00,397.26 C517.50,397.30 518.00,397.34 518.50,397.38 C519.00,397.42 519.50,397.46 520.00,397.49 C520.50,397.53 521.00,397.56 521.50,397.58 C522.00,397.61 522.50,397.64 523.00,397.66 C523.50,397.68 524.00,397.70 524.50,397.71 C525.00,397.73 525.50,397.74 526.00,397.74 C526.50,397.75 527.00,397.75 527.50,397.75 C528.00,397.75 528.50,397.75 529.00,397.74 C529.50,397.73 530.00,397.72 530.50,397.71 C531.00,397.69 531.50,397.67 532.00,397.65 C532.50,397.62 533.00,397.59 533.50,397.56 C534.00,397.53 534.50,397.49 535.00,397.45 C535.50,397.40 536.08,397.35 536.50,397.30 C536.92,397.26 537.33,397.21 537.50,397.19" fill="none" stroke="#b8283a" stroke-width="1.7" stroke-linejoin="round"/>
<path d="M319.00,236.10H537.50V398.00" fill="none" stroke="#3a3a3a" stroke-width="1.5" stroke-linecap="square"/>
<path d="M319.00,236.10V398.00H537.50" fill="none" stroke="#1c1c1c" stroke-width="1.5" stroke-linecap="square"/>
<path d="M319.00,398.00v3.3 M373.62,398.00v3.3 M428.25,398.00v3.3 M482.88,398.00v3.3 M537.50,398.00v3.3 M346.31,398.00v2 M400.94,398.00v2 M455.56,398.00v2 M510.19,398.00v2 M319.00,398.00h-3.3 M319.00,371.02h-3.3 M319.00,344.03h-3.3 M319.00,317.05h-3.3 M319.00,290.07h-3.3 M319.00,263.08h-3.3 M319.00,236.10h-3.3 M319.00,384.51h-2 M319.00,357.52h-2 M319.00,330.54h-2 M319.00,303.56h-2 M319.00,276.57h-2 M319.00,249.59h-2" stroke="#1c1c1c" stroke-width="1.3" fill="none"/>
<text x="319.00" y="411.50" text-anchor="middle" class="tk" style="font-size:9.2px">400</text>
<text x="373.62" y="411.50" text-anchor="middle" class="tk" style="font-size:9.2px">450</text>
<text x="428.25" y="411.50" text-anchor="middle" class="tk" style="font-size:9.2px">500</text>
<text x="482.88" y="411.50" text-anchor="middle" class="tk" style="font-size:9.2px">550</text>
<text x="537.50" y="411.50" text-anchor="middle" class="tk" style="font-size:9.2px">600</text>
<text x="313.80" y="401.10" text-anchor="end" class="tk" style="font-size:9.2px">0.0</text>
<text x="313.80" y="374.12" text-anchor="end" class="tk" style="font-size:9.2px">0.5</text>
<text x="313.80" y="347.13" text-anchor="end" class="tk" style="font-size:9.2px">1.0</text>
<text x="313.80" y="320.15" text-anchor="end" class="tk" style="font-size:9.2px">1.5</text>
<text x="313.80" y="293.17" text-anchor="end" class="tk" style="font-size:9.2px">2.0</text>
<text x="313.80" y="266.18" text-anchor="end" class="tk" style="font-size:9.2px">2.5</text>
<text x="313.80" y="239.20" text-anchor="end" class="tk" style="font-size:9.2px">3.0</text>
<text transform="translate(290.50,320.15) rotate(-90)" text-anchor="middle" class="tt" style="font-size:9.85px">Absorbance (a.u.)</text>
<text x="428.40" y="426.60" text-anchor="middle" class="tt">Wavelength (nm)</text>
<path d="M390.00,346.50H408.20" stroke="#3a3a3a" stroke-width="1.5"/>
<path d="M390.00,356.70H408.20" stroke="#c4505a" stroke-width="1.5"/>
<text x="410.50" y="349.80" class="lg" textLength="35.5" lengthAdjust="spacingAndGlyphs">Untreated</text>
<text x="410.50" y="360.20" class="lg" textLength="72.8" lengthAdjust="spacingAndGlyphs">Treated with HACC</text>
<text x="519.40" y="268.40" class="lt">d</text>
</svg>
</body></html>
